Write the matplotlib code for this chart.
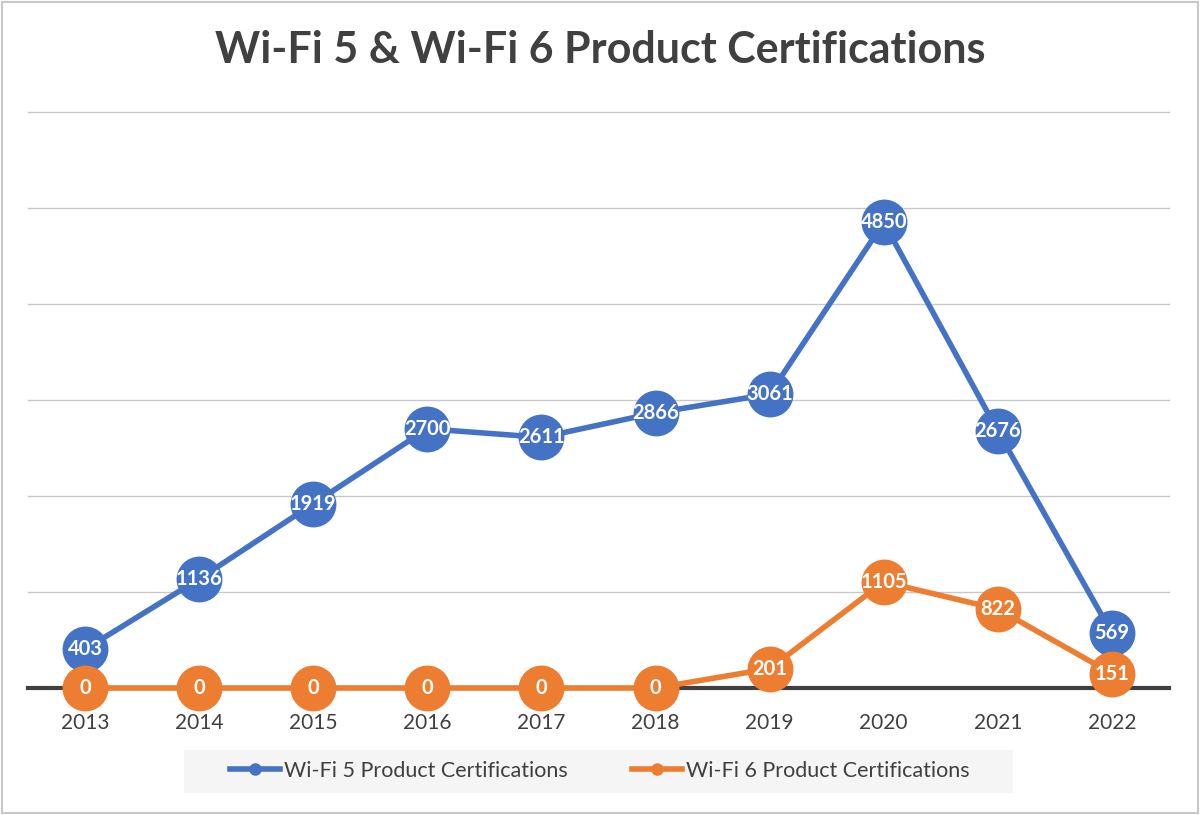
import matplotlib
matplotlib.use("Agg")
import matplotlib.pyplot as plt
from matplotlib.patches import Rectangle

years = ["2013", "2014", "2015", "2016", "2017", "2018", "2019", "2020", "2021", "2022"]
wifi5 = [403, 1136, 1919, 2700, 2611, 2866, 3061, 4850, 2676, 569]
wifi6 = [0, 0, 0, 0, 0, 0, 201, 1105, 822, 151]

BLUE = "#4472C4"
ORANGE = "#ED7D31"

plt.rcParams['font.family'] = ['Lato', 'DejaVu Sans']

fig = plt.figure(figsize=(12, 8.15), dpi=100)
fig.patches.append(Rectangle((0.002, 0.002), 0.996, 0.996, transform=fig.transFigure,
                             fill=False, edgecolor="#c8c8c8", linewidth=1.5))
ax = fig.add_axes([28/1200, 1 - 688/815, 1141/1200, (688 - 112)/815])
x = list(range(len(years)))

for yv in range(1000, 7000, 1000):
    ax.axhline(yv, color="#c8c8c8", linewidth=1, zorder=0, clip_on=False)
ax.axhline(0, color="#404040", linewidth=3, zorder=1, clip_on=False)

l5, = ax.plot(x, wifi5, color=BLUE, linewidth=4, marker="o", markersize=32,
              markerfacecolor=BLUE, markeredgecolor=BLUE, zorder=3, clip_on=False,
              label="Wi-Fi 5 Product Certifications")
l6, = ax.plot(x, wifi6, color=ORANGE, linewidth=4, marker="o", markersize=32,
              markerfacecolor=ORANGE, markeredgecolor=ORANGE, zorder=4, clip_on=False,
              label="Wi-Fi 6 Product Certifications")
for xi, v in zip(x, wifi5):
    ax.text(xi, v, str(v), color="white", fontsize=14.5, fontweight="bold",
            ha="center", va="center", zorder=5)
for xi, v in zip(x, wifi6):
    ax.text(xi, v, str(v), color="white", fontsize=14.5, fontweight="bold",
            ha="center", va="center", zorder=6)

ax.set_xlim(-0.5, len(years) - 0.5)
ax.set_ylim(0, 6000)
ax.set_xticks(x)
ax.set_xticklabels(years, fontsize=15, color="#404040")
ax.tick_params(axis="x", length=0, pad=18)
ax.set_yticks([])
for s in ax.spines.values():
    s.set_visible(False)
ax.patch.set_visible(False)

fig.text(0.5, 1 - 50/815, "Wi-Fi 5 & Wi-Fi 6 Product Certifications", ha="center", va="center",
         fontsize=31, fontweight="bold", color="#404040")

fig.patches.append(Rectangle((184/1200, 1 - 793/815), (1013 - 184)/1200, 43/815,
                             transform=fig.transFigure, facecolor="#f5f5f5", edgecolor="none"))
h5, = ax.plot([], [], color=BLUE, linewidth=4, marker="o", markersize=8)
h6, = ax.plot([], [], color=ORANGE, linewidth=4, marker="o", markersize=8)
leg = fig.legend([h5, h6], ["Wi-Fi 5 Product Certifications", "Wi-Fi 6 Product Certifications"],
                 loc="center", bbox_to_anchor=(0.5, 1 - 771/815), ncol=2, frameon=False,
                 fontsize=15.5, handlelength=2.3, handletextpad=0.2, columnspacing=3)
for t in leg.get_texts():
    t.set_color("#404040")

fig.savefig("out.png", dpi=100)
